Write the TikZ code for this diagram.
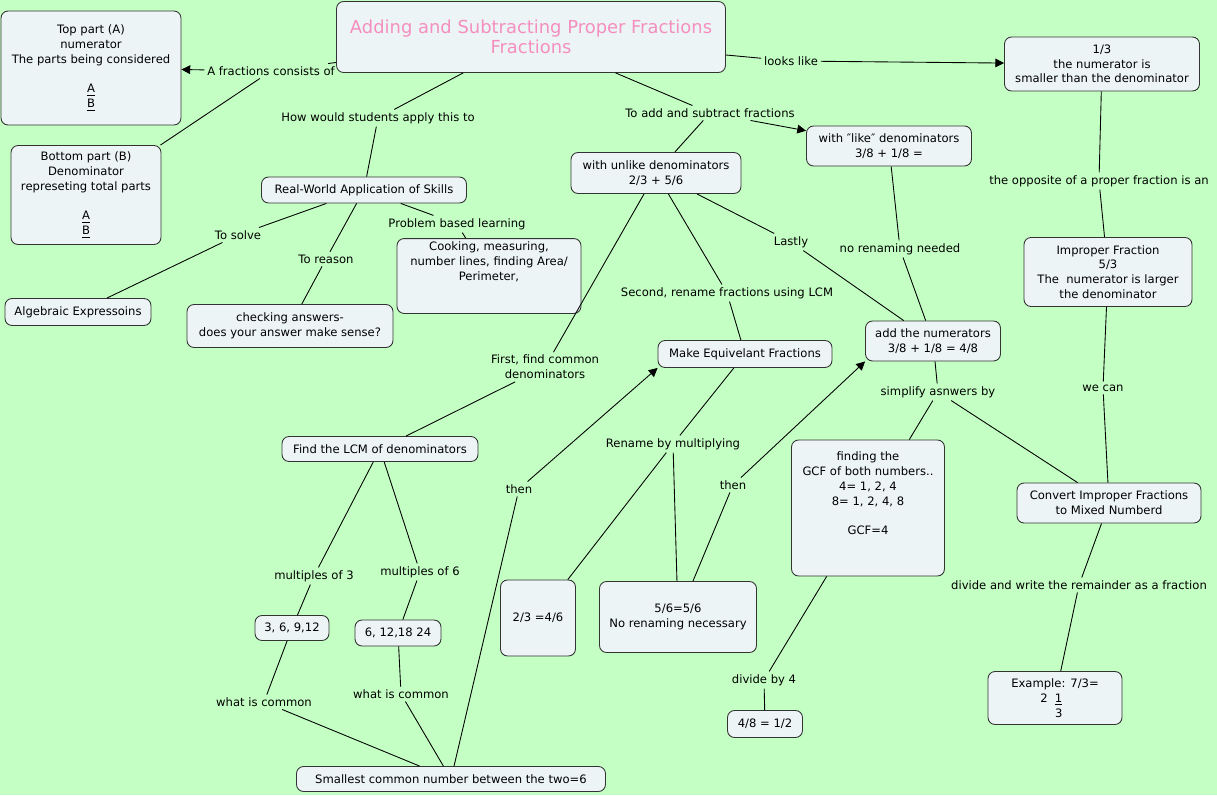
\documentclass[tikz,border=0pt]{standalone}
\usepackage{fontspec}
\setmainfont{DejaVu Sans}
\usetikzlibrary{arrows.meta}
\definecolor{bgreen}{HTML}{C4FFC4}
\definecolor{cbox}{HTML}{EDF4F6}
\definecolor{cpink}{HTML}{F48FBF}
\begin{document}
\begin{tikzpicture}[
    x=0.02cm, y=-0.02cm,
    every node/.style={font=\fontsize{6.6}{8.4}\selectfont, align=center},
    concept/.style={
      draw=black!80,
      line width=0.5pt,
      fill=cbox,
      rounded corners=4pt,
      inner sep=2pt
    },
    phrase/.style={inner sep=1.5pt},
    link/.style={line width=0.5pt, black},
    arrow/.style={link, -{Triangle[length=5pt,width=5pt]}}
  ]

    % background
    \fill[bgreen] (0,0) rectangle (1217,795);
    \useasboundingbox (0,0) rectangle (1217,795);

    % concepts
    \node[concept, minimum width=7.78cm, minimum height=1.42cm, text=cpink,
      font=\fontsize{10.2}{11.5}\selectfont] (title) at (531,37)
      {Adding and Subtracting Proper Fractions\\Fractions};
    \node[concept, minimum width=3.6cm, minimum height=2.28cm] (topA) at (91,68)
      {Top part (A)\\numerator\\The parts being considered\\[8.4pt]\underline{A}\\\underline{B}};
    \node[concept, minimum width=3.0cm, minimum height=1.98cm] (botB) at (86,195)
      {Bottom part (B)\\Denominator\\represeting total parts\\[8.4pt]\underline{A}\\\underline{B}};
    \node[concept, minimum width=3.9cm, minimum height=1.08cm] (third) at (1102,64)
      {1/3\\the numerator is\\smaller than the denominator};
    \node[concept, minimum width=3.3cm, minimum height=0.8cm] (like) at (889,146)
      {with ″like″ denominators\\3/8 + 1/8 =};
    \node[concept, minimum width=3.4cm, minimum height=0.82cm] (unlike) at (656,173)
      {with unlike denominators\\2/3 + 5/6};
    \node[concept, minimum width=4.1cm, minimum height=0.52cm] (real) at (364,190)
      {Real-World Application of Skills};
    \node[concept, minimum width=3.68cm, minimum height=1.38cm] (cook) at (489,276)
      {Cooking, measuring,\\number lines, finding Area/\\Perimeter,\\[8.4pt]};
    \node[concept, minimum width=2.92cm, minimum height=0.54cm] (alg) at (78,312)
      {Algebraic Expressoins};
    \node[concept, minimum width=4.12cm, minimum height=0.86cm] (check) at (290,326)
      {checking answers-\\does your answer make sense?};
    \node[concept, minimum width=3.36cm, minimum height=1.38cm] (improper) at (1108,272)
      {Improper Fraction\\5/3\\The\ \ numerator is larger\\the denominator};
    \node[concept, minimum width=2.7cm, minimum height=0.8cm] (addnum) at (933,341)
      {add the numerators\\3/8 + 1/8 = 4/8};
    \node[concept, minimum width=3.48cm, minimum height=0.54cm] (equiv) at (745,354)
      {Make Equivelant Fractions};
    \node[concept, minimum width=3.92cm, minimum height=0.5cm] (lcm) at (380,449)
      {Find the LCM of denominators};
    \node[concept, minimum width=3.06cm, minimum height=2.72cm] (gcf) at (868,508)
      {finding the\\GCF of both numbers..\\4= 1, 2, 4\\8= 1, 2, 4, 8\\[8.4pt]GCF=4\\[8.4pt]};
    \node[concept, minimum width=3.68cm, minimum height=0.8cm] (convert) at (1109,503)
      {Convert Improper Fractions\\to Mixed Numberd};
    \node[concept, minimum width=1.48cm, minimum height=0.5cm] (m3) at (292,628)
      {3, 6, 9,12};
    \node[concept, minimum width=1.72cm, minimum height=0.52cm] (m6) at (398,633)
      {6, 12,18 24};
    \node[concept, minimum width=1.5cm, minimum height=1.52cm] (two3) at (538,618)
      {2/3 =4/6};
    \node[concept, minimum width=3.14cm, minimum height=1.42cm] (five6) at (678,617)
      {5/6=5/6\\No renaming necessary};
    \node[concept, minimum width=2.68cm, minimum height=1.06cm] (example) at (1055,698)
      {Example: 7/3=\\2\ \ \underline{1}\phantom{2}\\\phantom{2\ \ }3\phantom{2}};
    \node[concept, minimum width=1.5cm, minimum height=0.54cm] (half) at (765,724)
      {4/8 = 1/2};
    \node[concept, minimum width=6.18cm, minimum height=0.5cm] (small) at (451,779)
      {Smallest common number between the two=6};

    % linking phrases
    \node[phrase] (consists) at (271,71) {A fractions consists of};
    \node[phrase] (looks) at (791,61) {looks like};
    \node[phrase] (apply) at (378,118) {How would students apply this to};
    \node[phrase] (toadd) at (710,113) {To add and subtract fractions};
    \node[phrase] (opposite) at (1099,181) {the opposite of a proper fraction is an};
    \node[phrase] (solve) at (238,235) {To solve};
    \node[phrase] (pbl) at (457,224) {Problem based learning};
    \node[phrase] (reason) at (326,259) {To reason};
    \node[phrase] (lastly) at (791,242) {Lastly};
    \node[phrase] (norename) at (900,249) {no renaming needed};
    \node[phrase] (second) at (727,293) {Second, rename fractions using LCM};
    \node[phrase] (first) at (545,367) {First, find common\\denominators};
    \node[phrase] (wecan) at (1103,388) {we can};
    \node[phrase] (simplify) at (938,392) {simplify asnwers by};
    \node[phrase] (rename) at (673,444) {Rename by multiplying};
    \node[phrase] (thenA) at (519,489) {then};
    \node[phrase] (thenB) at (733,485) {then};
    \node[phrase] (mult3) at (314,576) {multiples of 3};
    \node[phrase] (mult6) at (420,572) {multiples of 6};
    \node[phrase] (divide) at (1079,585) {divide and write the remainder as a fraction};
    \node[phrase] (divfour) at (764,680) {divide by 4};
    \node[phrase] (common3) at (264,702) {what is common};
    \node[phrase] (common6) at (401,694) {what is common};

    % connectors
    \draw[link] (title) -- (consists);
    \draw[arrow] (consists) -- (topA);
    \draw[link] (consists) -- (botB);
    \draw[link] (title) -- (looks);
    \draw[arrow] (looks) -- (third);
    \draw[link] (title) -- (apply);
    \draw[link] (apply) -- (real);
    \draw[link] (title) -- (toadd);
    \draw[arrow] (toadd) -- (like);
    \draw[link] (toadd) -- (unlike);
    \draw[link] (third) -- (opposite);
    \draw[link] (opposite) -- (improper);
    \draw[link] (real) -- (solve);
    \draw[link] (solve) -- (alg);
    \draw[link] (real) -- (pbl);
    \draw[link] (pbl) -- (cook);
    \draw[link] (real) -- (reason);
    \draw[link] (reason) -- (check);
    \draw[link] (unlike) -- (lastly);
    \draw[link] (lastly) -- (addnum);
    \draw[link] (like) -- (norename);
    \draw[link] (norename) -- (addnum);
    \draw[link] (unlike) -- (second);
    \draw[link] (second) -- (equiv);
    \draw[link] (unlike) -- (first);
    \draw[link] (first) -- (lcm);
    \draw[link] (improper) -- (wecan);
    \draw[link] (wecan) -- (convert);
    \draw[link] (addnum) -- (simplify);
    \draw[link] (simplify) -- (gcf);
    \draw[link] (simplify) -- (convert);
    \draw[link] (equiv) -- (rename);
    \draw[link] (rename) -- (two3);
    \draw[link] (rename) -- (five6);
    \draw[link] (small) -- (thenA);
    \draw[arrow] (thenA) -- (equiv.south west);
    \draw[link] (five6) -- (thenB);
    \draw[arrow] (thenB) -- (addnum.south west);
    \draw[link] (lcm) -- (mult3);
    \draw[link] (mult3) -- (m3);
    \draw[link] (lcm) -- (mult6);
    \draw[link] (mult6) -- (m6);
    \draw[link] (convert) -- (divide);
    \draw[link] (divide) -- (example);
    \draw[link] (gcf) -- (divfour);
    \draw[link] (divfour) -- (half);
    \draw[link] (m3) -- (common3);
    \draw[link] (common3) -- (small);
    \draw[link] (m6) -- (common6);
    \draw[link] (common6) -- (small);

  \end{tikzpicture}
\end{document}
